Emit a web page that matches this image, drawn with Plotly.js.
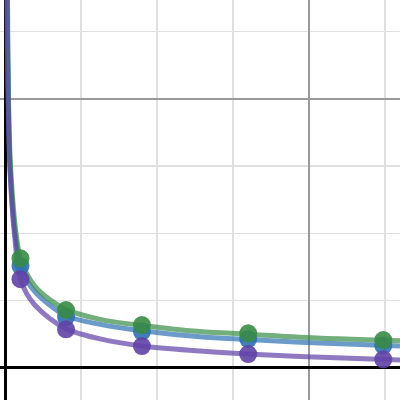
<!DOCTYPE html>
<html>
<head>
<meta charset="utf-8">
<script src="https://cdn.plot.ly/plotly-3.0.1.min.js"></script>
<style>
  html, body { margin: 0; padding: 0; background: #fff; }
  #chart { width: 400px; height: 400px; }
</style>
</head>
<body>
<div id="chart"></div>
<script>
  // Values, in graph units (one minor grid step = 1).
  const GREEN_X = [0.024, 0.029, 0.042, 0.069, 0.141, 0.200, 0.282, 0.391, 0.589, 0.806, 1.248, 1.801, 2.565, 3.198, 3.883, 5.200];
  const GREEN_Y = [6.60, 5.47, 4.00, 3.00, 2.00, 1.62, 1.40, 1.21, 1.01, 0.865, 0.72, 0.63, 0.54, 0.50, 0.455, 0.40];

  const BLUE_X = [0.023, 0.026, 0.040, 0.062, 0.128, 0.200, 0.282, 0.391, 0.589, 0.806, 1.248, 1.801, 2.565, 3.198, 3.883, 5.200];
  const BLUE_Y = [6.60, 5.47, 4.00, 3.00, 2.00, 1.52, 1.30, 1.13, 0.93, 0.77, 0.645, 0.55, 0.46, 0.42, 0.38, 0.323];

  const PURPLE_X = [0.020, 0.022, 0.036, 0.059, 0.119, 0.200, 0.282, 0.391, 0.589, 0.806, 1.248, 1.801, 2.565, 3.198, 3.883, 5.200];
  const PURPLE_Y = [6.60, 5.47, 4.00, 3.00, 2.00, 1.32, 1.10, 0.93, 0.73, 0.575, 0.43, 0.323, 0.249, 0.204, 0.167, 0.115];

  const POINT_X = [0.2, 0.8, 1.8, 3.2, 4.98];
  const GREEN_PTS = [1.628, 0.859, 0.635, 0.512, 0.412];
  const BLUE_PTS = [1.513, 0.754, 0.539, 0.427, 0.330];
  const PURPLE_PTS = [1.318, 0.571, 0.323, 0.204, 0.125];

  const GREEN = "#388c46";
  const BLUE = "#2d70b3";
  const PURPLE = "#6042a6";

  function curve(x, y, color) {
    return {
      x: x, y: y, type: "scatter", mode: "lines",
      line: { color: color, width: 5, shape: "spline", smoothing: 1 },
      opacity: 0.7, hoverinfo: "skip",
    };
  }

  function dots(y, color) {
    return {
      x: POINT_X, y: y, type: "scatter", mode: "markers",
      marker: { color: color, size: 18, opacity: 0.9, line: { width: 0 } },
      hoverinfo: "skip",
    };
  }

  const GRID_AXIS = {
    tick0: 0, dtick: 4,
    showgrid: true, gridcolor: "#9a9a9a", gridwidth: 2,
    minor: { tick0: 0, dtick: 1, showgrid: true, gridcolor: "#e0e0e0", gridwidth: 1.5 },
    zeroline: true, zerolinecolor: "#000", zerolinewidth: 3,
    showticklabels: false, ticks: "", showline: false,
  };

  const layout = {
    width: 400, height: 400,
    margin: { l: 0, r: 0, t: 0, b: 0 },
    paper_bgcolor: "#fff", plot_bgcolor: "#fff",
    showlegend: false,
    xaxis: Object.assign({}, GRID_AXIS, { range: [-0.07, 5.2] }),
    yaxis: Object.assign({}, GRID_AXIS, { range: [-0.48, 5.472] }),
  };

  Plotly.newPlot("chart", [
    curve(BLUE_X, BLUE_Y, BLUE),
    curve(GREEN_X, GREEN_Y, GREEN),
    curve(PURPLE_X, PURPLE_Y, PURPLE),
    dots(BLUE_PTS, BLUE),
    dots(GREEN_PTS, GREEN),
    dots(PURPLE_PTS, PURPLE),
  ], layout, { displayModeBar: false, staticPlot: true });
</script>
</body>
</html>
